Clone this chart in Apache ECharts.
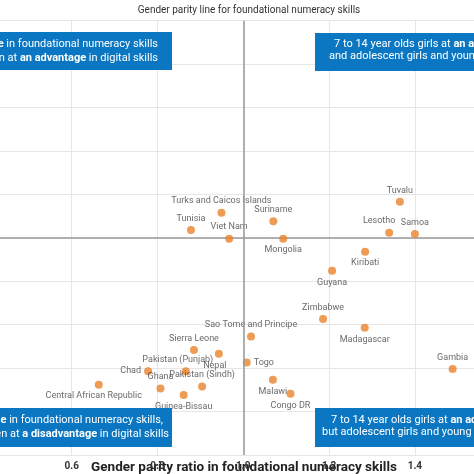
<!DOCTYPE html>
<html><head><meta charset="utf-8">
<script src="https://cdn.jsdelivr.net/npm/echarts@6/dist/echarts.min.js"></script>
<style>html,body{margin:0;padding:0;background:#fff}#c{width:474px;height:474px}</style>
</head><body><div id="c"></div>
<script>
const countries = ["Turks and Caicos Islands","Tunisia","Viet Nam","Suriname","Mongolia","Tuvalu","Lesotho","Samoa","Kiribati","Guyana","Zimbabwe","Madagascar","Sao Tome and Principe","Sierra Leone","Nepal","Togo","Gambia","Chad","Pakistan (Punjab)","Central African Republic","Ghana","Pakistan (Sindh)","Guinea-Bissau","Malawi","Congo DR"];
const numeracyGPI = [0.949,0.878,0.967,1.070,1.093,1.365,1.340,1.400,1.284,1.207,1.186,1.283,1.018,0.885,0.943,1.008,1.488,0.778,0.866,0.663,0.807,0.904,0.861,1.069,1.110];
const digitalGap = [0.058,0.018,-0.002,0.038,-0.002,0.083,0.012,0.009,-0.032,-0.076,-0.187,-0.207,-0.227,-0.258,-0.267,-0.287,-0.302,-0.307,-0.307,-0.338,-0.347,-0.342,-0.362,-0.327,-0.359];
const xTicks = ["0.6","0.8","1.0","1.2","1.4"];
const labelPos = {"Mongolia":"bottom","Kiribati":"bottom","Guyana":"bottom","Madagascar":"bottom","Nepal":"bottom","Togo":"right","Chad":"left","Central African Republic":"bottom","Guinea-Bissau":"bottom","Malawi":"bottom","Congo DR":"bottom","Lesotho":"top"};
const labelOff = {"Lesotho":[-10,0],"Nepal":[-4,0],"Pakistan (Punjab)":[-8,0],"Central African Republic":[-5,0]};

const data = countries.map((n,i)=>({name:n,value:[numeracyGPI[i],digitalGap[i]],
  label:{position:labelPos[n]||'top',offset:labelOff[n]||[0,0]}}));
const chart = echarts.init(document.getElementById('c'));
const font = 'Roboto';
const blue = '#0b77c2';
function box(x,y,w,h){return {type:'rect',shape:{x,y,width:w,height:h},style:{fill:blue},z:10};}
function txt(x,y,t,align){return {type:'text',x,y,z:11,style:{text:t,fill:'#fff',align:align||'left',verticalAlign:'middle',font:'11px '+font,
  rich:{b:{fontWeight:'bold',fill:'#fff',fontSize:11,fontFamily:font}}}};}
chart.setOption({
  animation:false,
  grid:{left:-14.1,right:-26.7,top:20.7,bottom:19,outerBoundsMode:'none',containLabel:false},
  title:{text:'Gender parity line for foundational numeracy skills',left:244,textAlign:'center',top:0,
    textStyle:{fontSize:10,fontWeight:'normal',color:'#333',fontFamily:font}},
  xAxis:{type:'value',min:0.4,max:1.6,interval:0.2,
    axisLine:{onZero:true,lineStyle:{color:'#999',width:1.5}},axisTick:{show:false},
    splitLine:{lineStyle:{color:'#e6e6e6'}},
    axisLabel:{color:'#333',fontSize:10,fontWeight:'bold',fontFamily:font,margin:6,
      formatter:v=>{const s=v.toFixed(1);return xTicks.includes(s)?s:'';}}},
  yAxis:{type:'value',min:-0.5,max:0.5,interval:0.1,axisLine:{show:false},axisTick:{show:false},axisLabel:{show:false},
    splitLine:{lineStyle:{color:'#e6e6e6'}}},
  series:[{type:'scatter',data,symbolSize:8,itemStyle:{color:'#e8822a'},
    label:{show:true,formatter:'{b}',fontSize:9,color:'#444',fontFamily:font,distance:3},
    markLine:{silent:true,symbol:'none',label:{show:false},lineStyle:{color:'#999',width:1.5,type:'solid'},data:[{xAxis:1}]}}],
  graphic:[
    box(-2,32,174,38),
    txt(158,44,'{b|ge} in foundational numeracy skills','right'),
    txt(158,58,'en at {b|an advantage} in digital skills','right'),
    box(315,33,170,38),
    txt(334,44,'7 to 14 year olds girls at {b|an advantage}'),
    txt(329,56,'and adolescent girls and young women'),
    box(-2,408,174,39),
    txt(163,420,'{b|ge} in foundational numeracy skills,','right'),
    txt(169,434,'hen at {b|a disadvantage} in digital skills','right'),
    box(315,408,170,39),
    txt(331,420,'7 to 14 year olds girls at {b|an advantage}'),
    txt(322,432,'but adolescent girls and young women'),
    {type:'text',x:244,y:468,style:{text:'Gender parity ratio in foundational numeracy skills',align:'center',verticalAlign:'middle',
      font:'bold 13.5px '+font,fill:'#222'}}
  ]
});
</script></body></html>
